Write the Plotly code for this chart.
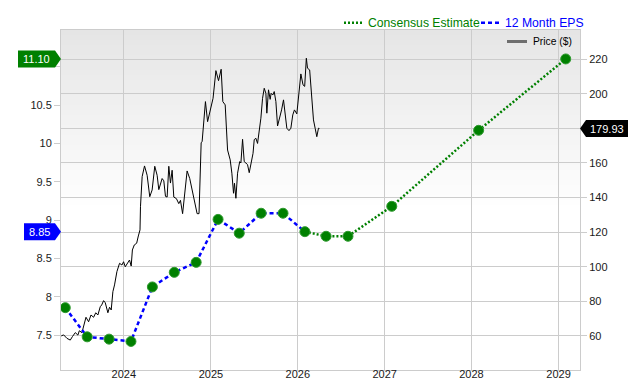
import plotly.graph_objects as go

# ---------------- data ----------------
price_dates = [
    "2023-04-13", "2023-04-23", "2023-05-07", "2023-05-21", "2023-05-30", "2023-06-11",
    "2023-06-22", "2023-06-28", "2023-07-09", "2023-07-16", "2023-07-26", "2023-08-06",
    "2023-08-16", "2023-08-27", "2023-09-05", "2023-09-14", "2023-09-24", "2023-09-30",
    "2023-10-08", "2023-10-15", "2023-10-26", "2023-11-02", "2023-11-09", "2023-11-16",
    "2023-11-23", "2023-12-03", "2023-12-14", "2023-12-24", "2023-12-31", "2024-01-07",
    "2024-01-17", "2024-01-25", "2024-02-01", "2024-02-06", "2024-02-14", "2024-02-24",
    "2024-03-02", "2024-03-09", "2024-03-11", "2024-03-18", "2024-03-28", "2024-04-08",
    "2024-04-19", "2024-04-29", "2024-05-10", "2024-05-20", "2024-05-27", "2024-06-03",
    "2024-06-10", "2024-06-17", "2024-06-24", "2024-07-01", "2024-07-08", "2024-07-15",
    "2024-07-22", "2024-07-29", "2024-08-09", "2024-08-19", "2024-08-26", "2024-09-04",
    "2024-09-13", "2024-09-23", "2024-10-04", "2024-10-14", "2024-10-24", "2024-11-04",
    "2024-11-12", "2024-11-21", "2024-11-25", "2024-12-09", "2024-12-18", "2024-12-30",
    "2025-01-10", "2025-01-22", "2025-02-02", "2025-02-13", "2025-02-20", "2025-03-02",
    "2025-03-12", "2025-03-23", "2025-03-30", "2025-04-06", "2025-04-10", "2025-04-16",
    "2025-04-23", "2025-05-02", "2025-05-07", "2025-05-14", "2025-05-21", "2025-05-28",
    "2025-06-04", "2025-06-11", "2025-06-18", "2025-06-27", "2025-07-02", "2025-07-09",
    "2025-07-16", "2025-07-25", "2025-07-30", "2025-08-06", "2025-08-13", "2025-08-20",
    "2025-08-24", "2025-08-31", "2025-09-07", "2025-09-11", "2025-09-18", "2025-09-24",
    "2025-10-01", "2025-10-08", "2025-10-17", "2025-10-25", "2025-11-02", "2025-11-09",
    "2025-11-16", "2025-11-25", "2025-12-03", "2025-12-11", "2025-12-18", "2025-12-28",
    "2026-01-06", "2026-01-14", "2026-01-23", "2026-01-30", "2026-02-06", "2026-02-11",
    "2026-02-20", "2026-03-01", "2026-03-08", "2026-03-15", "2026-03-22", "2026-03-29",
    "2026-04-02",
]
price_vals = [
    60.0, 60.6, 58.6, 57.6, 59.6, 61.9,
    60.5, 63.0, 61.9, 65.3, 70.8, 68.2,
    72.1, 70.8, 73.4, 72.1, 76.9, 77.9,
    80.4, 79.2, 73.4, 76.6, 75.0, 85.6,
    89.5, 97.2, 102.0, 101.0, 102.9, 100.0,
    102.0, 103.9, 100.4, 109.7, 112.6, 113.6,
    117.8, 121.3, 134.7, 152.1, 158.3, 152.9,
    140.5, 144.4, 158.1, 152.9, 144.6, 147.2,
    151.0, 149.7, 140.7, 140.3, 158.1, 148.4,
    155.8, 140.3, 139.4, 136.5, 138.4, 130.7,
    144.4, 155.4, 151.0, 144.2, 136.5, 130.7,
    130.7, 171.8, 172.3, 195.5, 183.9, 190.7,
    197.4, 213.4, 207.6, 214.2, 195.5, 193.6,
    167.5, 161.8, 154.1, 142.5, 148.3, 139.6,
    154.1, 160.8, 160.0, 173.7, 160.8, 160.0,
    159.0, 154.4, 160.0, 165.6, 173.5, 174.3,
    171.3, 180.1, 185.9, 197.4, 203.2, 200.3,
    188.8, 202.3, 196.8, 200.3, 199.3, 201.3,
    195.5, 181.4, 185.9, 190.7, 196.5, 186.9,
    180.1, 178.7, 180.1, 187.8, 190.7, 188.4,
    200.3, 211.5, 205.2, 204.3, 220.6, 214.8,
    213.8, 199.3, 184.9, 180.1, 175.2, 180.1,
    179.93,
]

eps_dates = ["2023-04-30", "2023-07-31", "2023-10-31", "2024-01-31", "2024-04-30", "2024-07-31",
             "2024-10-31", "2025-01-31", "2025-04-30", "2025-07-31", "2025-10-31", "2026-01-31"]
eps_vals = [7.86, 7.48, 7.45, 7.42, 8.13, 8.32, 8.45, 9.01, 8.83, 9.09, 9.09, 8.85]

cons_dates = ["2026-01-31", "2026-04-30", "2026-07-31", "2027-01-31", "2028-01-31", "2029-01-31"]
cons_vals = [8.85, 8.79, 8.79, 9.18, 10.17, 11.10]

x_tick_vals = ["2024-01-01", "2025-01-01", "2026-01-01", "2027-01-01", "2028-01-01", "2029-01-01"]
x_tick_text = ["2024", "2025", "2026", "2027", "2028", "2029"]
eps_ticks = [7.5, 8, 8.5, 9, 9.5, 10, 10.5, 11]
eps_tick_text = ["7.5", "8", "8.5", "9", "9.5", "10", "10.5", ""]   # 11 hidden under the 11.10 flag
price_ticks = [60, 80, 100, 120, 140, 160, 180, 200, 220]
price_tick_text = ["60", "80", "100", "120", "140", "160", "", "200", "220"]  # 180 hidden under flag

# ---------------- layout constants ----------------
W, H = 640, 380
ML, MR, MT, MB = 61, 60, 30, 10
PW, PH = W - ML - MR, H - MT - MB
FONT = "Liberation Sans, Arial, Helvetica, sans-serif"
GREEN = "#008000"
BLUE = "#0000ff"
GRID = "#cccccc"
TXT = "#1a1a1a"


def px_x(x):
    return (x - ML) / PW


def px_y(y):
    return (H - MB - y) / PH


fig = go.Figure()

# price (primary y axis, drawn on the right)
fig.add_trace(go.Scatter(x=price_dates, y=price_vals, yaxis="y", mode="lines",
                         line=dict(color="#000000", width=1), showlegend=False,
                         hoverinfo="skip"))
# consensus estimate
fig.add_trace(go.Scatter(x=cons_dates, y=cons_vals, yaxis="y2", mode="lines",
                         line=dict(color=GREEN, width=2.5, dash="2px,2px"),
                         showlegend=False, hoverinfo="skip"))
# 12 month EPS
fig.add_trace(go.Scatter(x=eps_dates, y=eps_vals, yaxis="y2", mode="lines",
                         line=dict(color=BLUE, width=2.5, dash="4px,3px"),
                         showlegend=False, hoverinfo="skip"))
# markers
fig.add_trace(go.Scatter(x=eps_dates + cons_dates[1:], y=eps_vals + cons_vals[1:], yaxis="y2",
                         mode="markers",
                         marker=dict(color=GREEN, size=10, line=dict(color="#2f9a2f", width=1)),
                         showlegend=False, hoverinfo="skip"))

shapes = []
# background gradient (top grey -> white)
n_bands = 36
for i in range(n_bands):
    c = int(round(229 + 26 * (i + 0.5) / n_bands))
    c = min(c, 255)
    y_top = MT + 5 * i
    shapes.append(dict(type="rect", xref="paper", yref="paper", x0=0, x1=1,
                       y0=px_y(y_top + 5.5), y1=px_y(y_top), layer="below",
                       fillcolor=f"rgb({c},{c},{c})", line=dict(width=0)))

# legend samples
LEG_Y = 22.7
shapes.append(dict(type="line", xref="paper", yref="paper", x0=px_x(344), x1=px_x(362),
                   y0=px_y(LEG_Y), y1=px_y(LEG_Y), line=dict(color=GREEN, width=2.5, dash="2px,2px")))
shapes.append(dict(type="line", xref="paper", yref="paper", x0=px_x(481), x1=px_x(501),
                   y0=px_y(LEG_Y), y1=px_y(LEG_Y), line=dict(color=BLUE, width=2.5, dash="4px,3px")))
shapes.append(dict(type="line", xref="paper", yref="paper", x0=px_x(507), x1=px_x(527),
                   y0=px_y(41.5), y1=px_y(41.5), line=dict(color="#6e6e6e", width=3)))

# value flags
shapes.append(dict(type="path", xref="paper", xsizemode="pixel", xanchor=0,
                   yref="y2", ysizemode="pixel", yanchor=cons_vals[-1],
                   path="M-43,8.5 L-6,8.5 L0,0 L-6,-8.5 L-43,-8.5 Z",
                   fillcolor=GREEN, line=dict(width=0), layer="above"))
shapes.append(dict(type="path", xref="paper", xsizemode="pixel", xanchor=0,
                   yref="y2", ysizemode="pixel", yanchor=eps_vals[-1],
                   path="M-37,8.5 L-6,8.5 L0,0 L-6,-8.5 L-37,-8.5 Z",
                   fillcolor=BLUE, line=dict(width=0), layer="above"))
shapes.append(dict(type="path", xref="paper", xsizemode="pixel", xanchor=1,
                   yref="y", ysizemode="pixel", yanchor=price_vals[-1],
                   path="M0,0 L6,8.5 L48,8.5 L48,-8.5 L6,-8.5 Z",
                   fillcolor="#000000", line=dict(width=0), layer="above"))

annotations = [
    dict(text="Consensus Estimate", x=px_x(366.5), y=px_y(LEG_Y), xref="paper", yref="paper",
         xanchor="left", yanchor="middle", showarrow=False, borderpad=0,
         font=dict(family=FONT, size=12.2, color=GREEN)),
    dict(text="12 Month EPS", x=px_x(503.5), y=px_y(LEG_Y), xref="paper", yref="paper",
         xanchor="left", yanchor="middle", showarrow=False, borderpad=0,
         font=dict(family=FONT, size=12.2, color=BLUE)),
    dict(text="Price ($)", x=px_x(531.5), y=px_y(41.5), xref="paper", yref="paper",
         xanchor="left", yanchor="middle", showarrow=False, borderpad=0,
         font=dict(family=FONT, size=10.3, color="#000000")),
    dict(text=f"{cons_vals[-1]:.2f}", x=0, xshift=-24.5, y=cons_vals[-1], xref="paper", yref="y2",
         xanchor="center", yanchor="middle", showarrow=False, borderpad=0,
         font=dict(family=FONT, size=11, color="#ffffff")),
    dict(text=f"{eps_vals[-1]:.2f}", x=0, xshift=-21.5, y=eps_vals[-1], xref="paper", yref="y2",
         xanchor="center", yanchor="middle", showarrow=False, borderpad=0,
         font=dict(family=FONT, size=11, color="#ffffff")),
    dict(text=f"{price_vals[-1]:.2f}", x=1, xshift=27, y=price_vals[-1], xref="paper", yref="y",
         xanchor="center", yanchor="middle", showarrow=False, borderpad=0,
         font=dict(family=FONT, size=11, color="#ffffff")),
]

fig.update_layout(
    template="none",
    width=W, height=H,
    margin=dict(l=ML, r=MR, t=MT, b=MB, pad=0),
    paper_bgcolor="#ffffff",
    plot_bgcolor="#ffffff",
    font=dict(family=FONT, size=11, color=TXT),
    showlegend=False,
    hovermode=False,
    xaxis=dict(type="date", range=["2023-04-12", "2029-04-01"],
               tickmode="array", tickvals=x_tick_vals, ticktext=x_tick_text,
               showgrid=True, gridcolor=GRID, gridwidth=1, zeroline=False,
               showline=True, linecolor=GRID, linewidth=1, mirror=True,
               ticks="", ticklabelstandoff=-6, automargin=False,
               tickfont=dict(size=11, color=TXT)),
    yaxis=dict(side="right", range=[40.3, 236.9], tickmode="array", tickvals=price_ticks,
               ticktext=price_tick_text,
               showgrid=True, gridcolor=GRID, gridwidth=1, zeroline=False,
               showline=True, linecolor=GRID, linewidth=1,
               ticks="outside", ticklen=6, tickcolor=GRID, automargin=False,
               tickfont=dict(size=11, color=TXT)),
    yaxis2=dict(side="left", overlaying="y", range=[7.048, 11.477], tickmode="array",
                tickvals=eps_ticks, ticktext=eps_tick_text, showgrid=False, zeroline=False,
                showline=True, linecolor=GRID, linewidth=1,
                ticks="outside", ticklen=6, tickcolor=GRID, automargin=False,
                tickfont=dict(size=11, color=TXT)),
    shapes=shapes,
    annotations=annotations,
)

fig.write_html("out.html")
